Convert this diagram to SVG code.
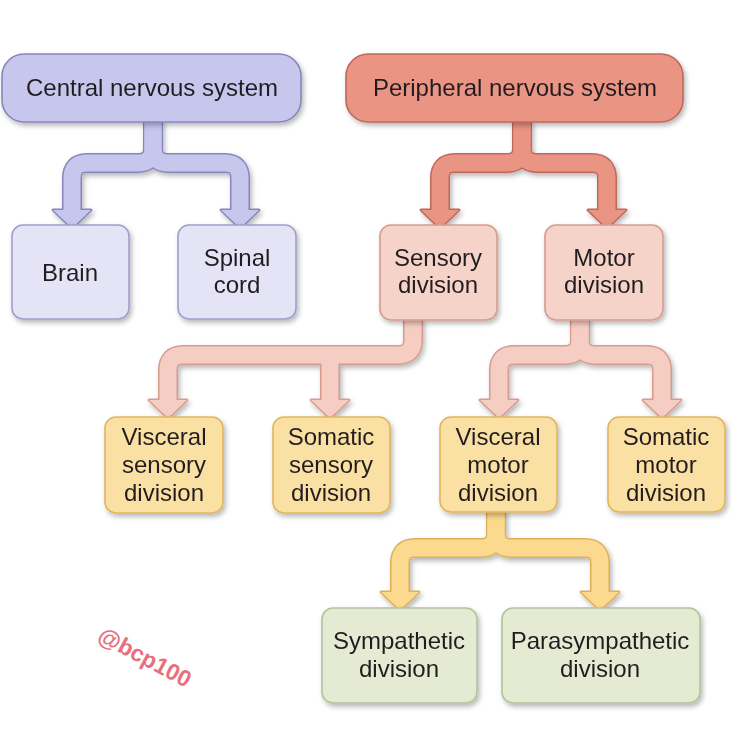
<svg xmlns="http://www.w3.org/2000/svg" width="732" height="756" viewBox="0 0 732 756">
<defs>
<filter id="sh" x="-10%" y="-10%" width="130%" height="140%">
<feDropShadow dx="2" dy="3" stdDeviation="2.5" flood-color="#000" flood-opacity="0.28"/>
</filter>
<style>
text{font-family:"Liberation Sans",Arial,Helvetica,sans-serif;font-size:24px;fill:#231f20;text-anchor:middle}
.box{stroke-width:1.6}
.cns{fill:#c7c7ee;stroke:#8686bd}
.cnsc{fill:#e4e4f6;stroke:#9f9fcd}
.pns{fill:#ea9483;stroke:#c0675a}
.pnsc{fill:#f6d3c8;stroke:#d69c8e}
.yel{fill:#fbe0a3;stroke:#dfb65e}
.grn{fill:#e4ebd2;stroke:#b2c39a}
.o{fill:none;stroke-width:20;stroke-linejoin:round}
.i{fill:none;stroke-width:17;stroke-linejoin:round}
.ho{stroke-width:3;stroke-linejoin:round}
.c1 .o,.c1 .ho{stroke:#8686bd}.c1 .ho{fill:#8686bd}.c1 .i{stroke:#c7c7ee}.c1 .hi{fill:#c7c7ee}
.c2 .o,.c2 .ho{stroke:#c0675a}.c2 .ho{fill:#c0675a}.c2 .i{stroke:#ea9483}.c2 .hi{fill:#ea9483}
.c3 .o,.c3 .ho{stroke:#d69c8e}.c3 .ho{fill:#d69c8e}.c3 .i{stroke:#f5cdc3}.c3 .hi{fill:#f5cdc3}
.c4 .o,.c4 .ho{stroke:#dcb058}.c4 .ho{fill:#dcb058}.c4 .i{stroke:#fbd98e}.c4 .hi{fill:#fbd98e}
.wm{font-family:"Liberation Sans",Arial,sans-serif;font-weight:bold;font-size:23px;fill:#ea6f7c}
</style>
</defs>
<rect width="732" height="756" fill="#ffffff"/>

<g id="connectors">
<g class="c1" filter="url(#sh)">
<path class="o" d="M153,120 V148 Q153,163 138,163 H87 Q72,163 72,178 V212"/>
<path class="o" d="M153,120 V148 Q153,163 168,163 H225 Q240,163 240,178 V212"/>
<polygon class="ho" points="53,210 91,210 72,228"/>
<polygon class="ho" points="221,210 259,210 240,228"/>
<path class="i" d="M153,120 V148 Q153,163 138,163 H87 Q72,163 72,178 V212"/>
<path class="i" d="M153,120 V148 Q153,163 168,163 H225 Q240,163 240,178 V212"/>
<polygon class="hi" points="53,210 91,210 72,228"/>
<polygon class="hi" points="221,210 259,210 240,228"/>
</g>
<g class="c2" filter="url(#sh)">
<path class="o" d="M522,120 V148 Q522,163 507,163 H455 Q440,163 440,178 V212"/>
<path class="o" d="M522,120 V148 Q522,163 537,163 H592 Q607,163 607,178 V212"/>
<polygon class="ho" points="421,210 459,210 440,228"/>
<polygon class="ho" points="588,210 626,210 607,228"/>
<path class="i" d="M522,120 V148 Q522,163 507,163 H455 Q440,163 440,178 V212"/>
<path class="i" d="M522,120 V148 Q522,163 537,163 H592 Q607,163 607,178 V212"/>
<polygon class="hi" points="421,210 459,210 440,228"/>
<polygon class="hi" points="588,210 626,210 607,228"/>
</g>
<g class="c3" filter="url(#sh)">
<path class="o" d="M413,318 V340 Q413,355 398,355 H183 Q168,355 168,370 V402"/>
<path class="o" d="M330,355 V402"/>
<path class="o" d="M580,318 V340 Q580,355 565,355 H514 Q499,355 499,370 V402"/>
<path class="o" d="M580,318 V340 Q580,355 595,355 H647 Q662,355 662,370 V402"/>
<polygon class="ho" points="149,400 187,400 168,418"/>
<polygon class="ho" points="311,400 349,400 330,418"/>
<polygon class="ho" points="480,400 518,400 499,418"/>
<polygon class="ho" points="643,400 681,400 662,418"/>
<path class="i" d="M413,318 V340 Q413,355 398,355 H183 Q168,355 168,370 V402"/>
<path class="i" d="M330,355 V402"/>
<path class="i" d="M580,318 V340 Q580,355 565,355 H514 Q499,355 499,370 V402"/>
<path class="i" d="M580,318 V340 Q580,355 595,355 H647 Q662,355 662,370 V402"/>
<polygon class="hi" points="149,400 187,400 168,418"/>
<polygon class="hi" points="311,400 349,400 330,418"/>
<polygon class="hi" points="480,400 518,400 499,418"/>
<polygon class="hi" points="643,400 681,400 662,418"/>
</g>
<g class="c4" filter="url(#sh)">
<path class="o" d="M496,510 V533 Q496,548 481,548 H415 Q400,548 400,563 V594"/>
<path class="o" d="M496,510 V533 Q496,548 511,548 H585 Q600,548 600,563 V594"/>
<polygon class="ho" points="381,592 419,592 400,610"/>
<polygon class="ho" points="581,592 619,592 600,610"/>
<path class="i" d="M496,510 V533 Q496,548 481,548 H415 Q400,548 400,563 V594"/>
<path class="i" d="M496,510 V533 Q496,548 511,548 H585 Q600,548 600,563 V594"/>
<polygon class="hi" points="381,592 419,592 400,610"/>
<polygon class="hi" points="581,592 619,592 600,610"/>
</g>
</g>

<g id="cns" filter="url(#sh)">
<rect class="box cns" x="2" y="54" width="299" height="68" rx="22"/>
<text x="152" y="96">Central nervous system</text>
</g>
<g id="pns" filter="url(#sh)">
<rect class="box pns" x="346" y="54" width="337" height="68" rx="22"/>
<text x="515" y="96">Peripheral nervous system</text>
</g>
<g id="brain" filter="url(#sh)">
<rect class="box cnsc" x="12" y="225" width="117" height="94" rx="11"/>
<text x="70" y="281">Brain</text>
</g>
<g id="spinal" filter="url(#sh)">
<rect class="box cnsc" x="178" y="225" width="118" height="94" rx="11"/>
<text x="237" y="266">Spinal</text>
<text x="237" y="293">cord</text>
</g>
<g id="sensory" filter="url(#sh)">
<rect class="box pnsc" x="380" y="225" width="117" height="95" rx="11"/>
<text x="438" y="266">Sensory</text>
<text x="438" y="293">division</text>
</g>
<g id="motor" filter="url(#sh)">
<rect class="box pnsc" x="545" y="225" width="118" height="95" rx="11"/>
<text x="604" y="266">Motor</text>
<text x="604" y="293">division</text>
</g>
<g id="visceral-sensory" filter="url(#sh)">
<rect class="box yel" x="105" y="417" width="118" height="96" rx="11"/>
<text x="164" y="445">Visceral</text>
<text x="164" y="473">sensory</text>
<text x="164" y="501">division</text>
</g>
<g id="somatic-sensory" filter="url(#sh)">
<rect class="box yel" x="273" y="417" width="117" height="96" rx="11"/>
<text x="331" y="445">Somatic</text>
<text x="331" y="473">sensory</text>
<text x="331" y="501">division</text>
</g>
<g id="visceral-motor" filter="url(#sh)">
<rect class="box yel" x="440" y="417" width="117" height="95" rx="11"/>
<text x="498" y="445">Visceral</text>
<text x="498" y="473">motor</text>
<text x="498" y="501">division</text>
</g>
<g id="somatic-motor" filter="url(#sh)">
<rect class="box yel" x="608" y="417" width="117" height="95" rx="11"/>
<text x="666" y="445">Somatic</text>
<text x="666" y="473">motor</text>
<text x="666" y="501">division</text>
</g>
<g id="sympathetic" filter="url(#sh)">
<rect class="box grn" x="322" y="608" width="155" height="95" rx="11"/>
<text x="399" y="649">Sympathetic</text>
<text x="399" y="677">division</text>
</g>
<g id="parasympathetic" filter="url(#sh)">
<rect class="box grn" x="502" y="608" width="198" height="95" rx="11"/>
<text x="600" y="649">Parasympathetic</text>
<text x="600" y="677">division</text>
</g>

<text class="wm" x="145" y="665" transform="rotate(28 145 657)">@bcp100</text>
</svg>
